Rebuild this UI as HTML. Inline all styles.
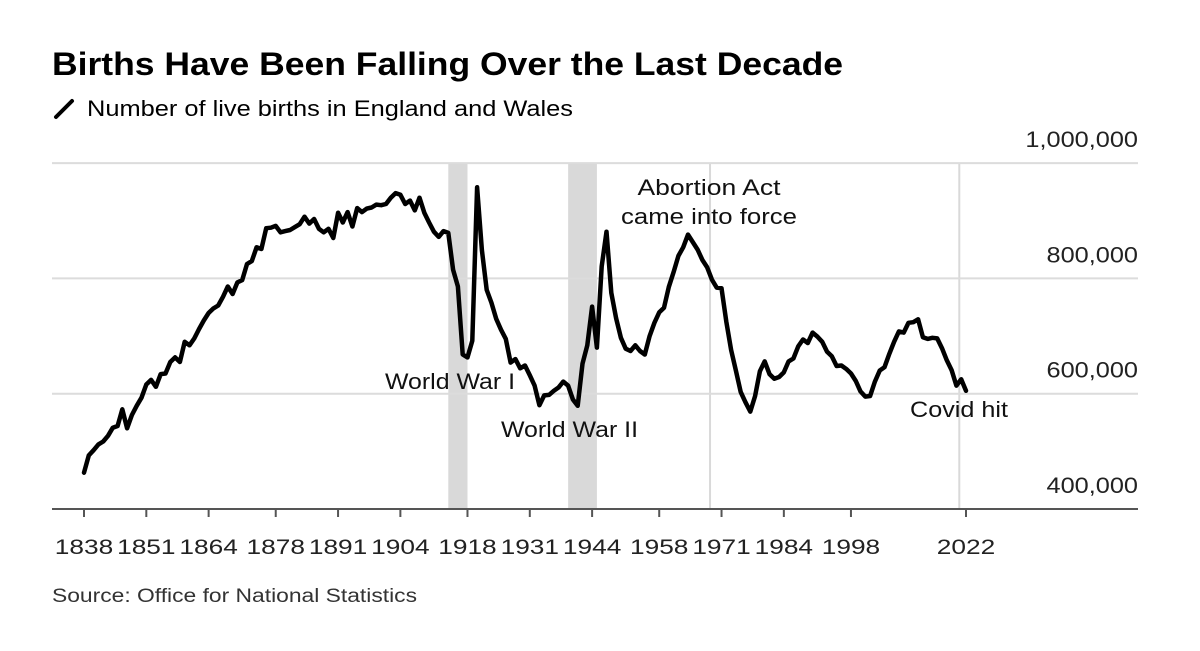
<!DOCTYPE html>
<html><head><meta charset="utf-8"><style>
body{margin:0;background:#fff;width:1200px;height:646px;overflow:hidden;font-family:"Liberation Sans",Arial,sans-serif;}
</style></head><body>
<svg id="chart" width="1200" height="646" xmlns="http://www.w3.org/2000/svg" font-family="Liberation Sans, Arial, sans-serif">
<text class="st" data-w="791" x="52" y="75" font-size="32" font-weight="bold" fill="#000">Births Have Been Falling Over the Last Decade</text>
<line x1="56" y1="117" x2="72" y2="101" stroke="#000" stroke-width="4" stroke-linecap="round"/>
<text class="st" data-w="486" x="87" y="116" font-size="22" fill="#000">Number of live births in England and Wales</text>
<g id="bands"></g><g id="grid"></g><g id="xaxis"></g><g id="ann"></g><g id="series"></g>
<text class="st" data-w="365" x="52" y="602" font-size="19" fill="#333">Source: Office for National Statistics</text>
</svg>
<script>
const years=[1838,1839,1840,1841,1842,1843,1844,1845,1846,1847,1848,1849,1850,1851,1852,1853,1854,1855,1856,1857,1858,1859,1860,1861,1862,1863,1864,1865,1866,1867,1868,1869,1870,1871,1872,1873,1874,1875,1876,1877,1878,1879,1880,1881,1882,1883,1884,1885,1886,1887,1888,1889,1890,1891,1892,1893,1894,1895,1896,1897,1898,1899,1900,1901,1902,1903,1904,1905,1906,1907,1908,1909,1910,1911,1912,1913,1914,1915,1916,1917,1918,1919,1920,1921,1922,1923,1924,1925,1926,1927,1928,1929,1930,1931,1932,1933,1934,1935,1936,1937,1938,1939,1940,1941,1942,1943,1944,1945,1946,1947,1948,1949,1950,1951,1952,1953,1954,1955,1956,1957,1958,1959,1960,1961,1962,1963,1964,1965,1966,1967,1968,1969,1970,1971,1972,1973,1974,1975,1976,1977,1978,1979,1980,1981,1982,1983,1984,1985,1986,1987,1988,1989,1990,1991,1992,1993,1994,1995,1996,1997,1998,1999,2000,2001,2002,2003,2004,2005,2006,2007,2008,2009,2010,2011,2012,2013,2014,2015,2016,2017,2018,2019,2020,2021,2022];
const births=[463,493,502,512,517,527,541,544,573,540,563,579,593,616,624,612,634,635,655,663,655,690,684,696,712,727,740,748,753,768,786,773,793,797,825,830,854,851,887,888,891,880,882,884,889,894,907,895,903,886,880,886,870,914,897,915,890,922,915,921,923,928,927,929,940,948,945,929,935,918,940,914,897,881,872,882,879,815,786,668,663,692,958,849,780,758,730,711,695,654,660,644,649,632,614,580,597,598,605,611,621,614,590,579,652,684,751,680,821,881,775,731,697,678,674,684,674,668,700,723,741,749,785,811,839,854,876,863,850,832,819,798,784,783,725,676,640,603,585,569,596,639,656,634,626,629,637,656,661,682,694,688,706,699,690,673,665,648,649,643,635,622,604,595,596,621,640,646,669,690,708,706,723,724,729,698,695,697,696,679,658,641,614,625,605];
const yTicks=[400000,600000,800000,1000000];
const yTickLabels=["400,000","600,000","800,000","1,000,000"];
const xTicks=[1838,1851,1864,1878,1891,1904,1918,1931,1944,1958,1971,1984,1998,2022];
const warBands=[[1914,1918],[1939,1945]];
const eventLines=[1968.6,2020.6];
const NS="http://www.w3.org/2000/svg";
function X(y){return 84+(y-1838)*(966-84)/184;}
function Y(v){return 509-(v-400000)/200000*115.3;}
function mk(tag,attrs,parent,txt){const e=document.createElementNS(NS,tag);for(const k in attrs)e.setAttribute(k,attrs[k]);if(txt!=null)e.textContent=txt;document.getElementById(parent).appendChild(e);return e;}
warBands.forEach((b,i)=>{
 const r=mk('rect',{x:X(b[0]),y:Y(1000000),width:X(b[1])-X(b[0]),height:509-Y(1000000),fill:'#d9d9d9'},'bands');
 
 
});
eventLines.forEach((yr,i)=>{
 const l=mk('line',{x1:X(yr),x2:X(yr),y1:Y(1000000),y2:509,stroke:'#d9d9d9','stroke-width':2},'bands');
 
 
});
yTicks.forEach((v,i)=>{
 if(v>400000){const g=mk('line',{x1:52,x2:1138,y1:Y(v),y2:Y(v),stroke:'#dcdcdc','stroke-width':2},'grid');
 
 }
 const t=mk('text',{x:1138,y:Y(v)-16,'text-anchor':'end','font-size':22,fill:'#222','class':'st'},'grid',yTickLabels[i]);
 
 
});
const ax=mk('line',{x1:52,x2:1138,y1:509,y2:509,stroke:'#555','stroke-width':2},'xaxis');


xTicks.forEach(yr=>{
 const tk=mk('line',{x1:X(yr),x2:X(yr),y1:509,y2:517,stroke:'#555','stroke-width':2},'xaxis');
 
 
 const t=mk('text',{x:X(yr),y:554,'text-anchor':'middle','font-size':21,fill:'#222','class':'st','data-f':'1.25'},'xaxis',String(yr));
 
 
});
const anns=[["World War I",385,389,'start',130],["World War II",501,437,'start',137],["Abortion Act",709,195,'middle',143],["came into force",709,224,'middle',176],["Covid hit",959,417,'middle',98]];
anns.forEach(a=>{
 const t=mk('text',{x:a[1],y:a[2],'text-anchor':a[3],'font-size':22,fill:'#111','class':'st','data-w':a[4]},'ann',a[0]);
 
 
});
const d=years.map((yr,i)=>(i?'L':'M')+X(yr).toFixed(1)+','+Y(births[i]*1000).toFixed(1)).join('');
const p=mk('path',{d:d,fill:'none',stroke:'#000','stroke-width':4.5,'stroke-linejoin':'round','stroke-linecap':'round'},'series');


document.querySelectorAll('text.st').forEach(t=>{
 const w=t.getAttribute('data-w');
 const f=parseFloat(t.getAttribute('data-f')||'1.15');
 const target=w?parseFloat(w):t.getComputedTextLength()*f;
 t.setAttribute('textLength',target);
 t.setAttribute('lengthAdjust','spacingAndGlyphs');
});
</script>
</body></html>
